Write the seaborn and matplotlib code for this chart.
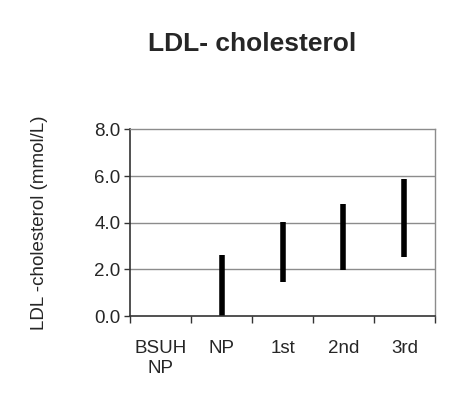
import matplotlib
matplotlib.use("Agg")
import matplotlib.pyplot as plt
import seaborn as sns
import pandas as pd

sns.set_style("white")
plt.rcParams['font.family'] = ['Liberation Sans', 'DejaVu Sans']

# category labels and reference ranges (mmol/L); BSUH NP has no range drawn
categories = ["BSUH\nNP", "NP", "1st", "2nd", "3rd"]
range_cats = ["NP", "1st", "2nd", "3rd"]
low = [0.0, 1.45, 1.97, 2.53]
high = [2.62, 4.01, 4.81, 5.87]
yticks = [0.0, 2.0, 4.0, 6.0, 8.0]

rows = []
for c, lo, hi in zip(range_cats, low, high):
    pos = categories.index(c)
    rows.append({"group": c, "pos": pos, "ldl": lo})
    rows.append({"group": c, "pos": pos, "ldl": hi})
df = pd.DataFrame(rows)

fig = plt.figure(figsize=(4.74, 3.98), dpi=100)
ax = fig.add_axes([0.2743, 0.206, 0.6434, 0.469])

# grid lines
for y in yticks[1:-1]:
    ax.axhline(y, color="#8c8c8c", linewidth=1, zorder=0)

sns.lineplot(data=df, x="pos", y="ldl", units="group", estimator=None,
             color="black", linewidth=4, solid_capstyle="butt", ax=ax)

ax.set_xlim(-0.5, len(categories) - 0.5)
ax.set_ylim(0, 8)
ax.set_yticks(yticks)
ax.set_yticklabels([f"{v:.1f}" for v in yticks], fontsize=13.5)
ax.set_xticks([i - 0.5 for i in range(len(categories) + 1)])
ax.set_xticklabels([])
ax.set_xticks(range(len(categories)), minor=True)
ax.set_xticklabels(categories, minor=True, fontsize=13.5, linespacing=1.25)
ax.tick_params(axis="x", which="major", direction="out", length=5, width=1, color="#333333", bottom=True)
ax.tick_params(axis="x", which="minor", length=0, pad=17)
ax.tick_params(axis="y", direction="out", length=4, width=1, color="#333333", left=True, pad=3)

ax.set_xlabel("")
ax.set_ylabel("LDL -cholesterol (mmol/L)", fontsize=13.5)
ax.yaxis.set_label_coords(-0.27, 0.5)

for s in ["left", "bottom"]:
    ax.spines[s].set_color("#333333")
    ax.spines[s].set_linewidth(1.2)
for s in ["top", "right"]:
    ax.spines[s].set_color("#8c8c8c")
    ax.spines[s].set_linewidth(1)

fig.text(0.531, 0.89, "LDL- cholesterol", ha="center", va="center",
         fontsize=19, fontweight="bold")

fig.savefig("out.png", dpi=100)
